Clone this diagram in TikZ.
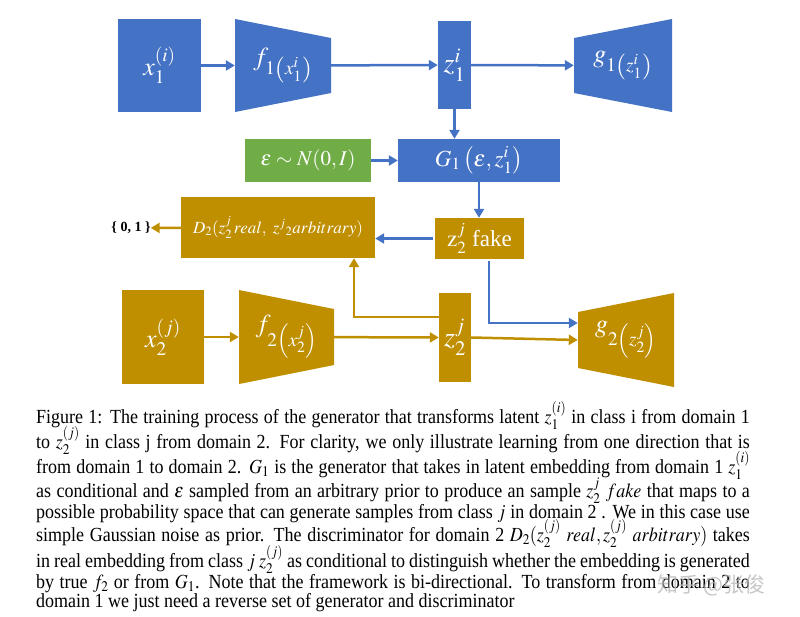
\documentclass[tikz,border=0pt]{standalone}
\usepackage{graphicx}
\usepackage{mathptmx}
\usepackage{fontspec}
\setmainfont{Liberation Serif}
\newfontfamily\cjkfont{Noto Sans CJK SC}
\usetikzlibrary{arrows.meta}

\definecolor{encblue}{HTML}{4472C4}
\definecolor{encgold}{HTML}{BF8F00}
\definecolor{noisegreen}{HTML}{70AD47}

\tikzstyle{block} = [rectangle, inner sep=0pt, text=white, font=\fontsize{26}{30}\selectfont]
\tikzstyle{latent} = [block, font=\fontsize{28}{32}\selectfont]
\tikzstyle{flow}  = [line width=2.5pt, -{Triangle[length=9pt, width=10pt]}]
\tikzstyle{capline} = [anchor=base west, inner sep=0pt, font=\fontsize{20}{24}\selectfont]
\tikzset{
  encoder/.style={block, path picture={\fill[#1] (path picture bounding box.north west)
      -- ([yshift=-19pt]path picture bounding box.north east)
      -- ([yshift=19pt]path picture bounding box.south east)
      -- (path picture bounding box.south west) -- cycle;}},
  decoder/.style={block, path picture={\fill[#1] ([yshift=-19pt]path picture bounding box.north west)
      -- (path picture bounding box.north east)
      -- (path picture bounding box.south east)
      -- ([yshift=19pt]path picture bounding box.south west) -- cycle;}}
}
\newcommand{\figline}[1]{\scalebox{0.9}[1]{\makebox[793pt][s]{#1}}}

\begin{document}
\begin{tikzpicture}[x=1pt, y=-1pt]
        \useasboundingbox (0,0) rectangle (800,616);

        % Domain 1
        \node[block, fill=encblue, minimum width=83pt, minimum height=93pt] (x1) at (159.5, 65.5) {$x_1^{(i)}$};
        \node[encoder=encblue, minimum width=96pt, minimum height=93pt] (f1) at (283, 65.5) {$f_{1\left(x_1^{i}\right)}$};
        \node[latent, fill=encblue, minimum width=33pt, minimum height=88pt] (z1) at (454.5, 65) {$z_1^{i}$};
        \node[decoder=encblue, minimum width=98pt, minimum height=93pt] (g1) at (623, 65.5) {$g_{1\left(z_1^{i}\right)}$};

        % Generator
        \node[block, fill=noisegreen, minimum width=126pt, minimum height=43pt, font=\fontsize{21}{25}\selectfont] (eps) at (308, 160.5) {$\epsilon\sim N(0,I)$};
        \node[block, fill=encblue, minimum width=162pt, minimum height=43pt, font=\fontsize{23}{27}\selectfont] (G1) at (479, 160.5) {$G_1\left(\epsilon, z_1^{i}\right)$};

        % Discriminator
        \node[block, fill=encgold, minimum width=194pt, minimum height=61pt, font=\fontsize{17}{20}\selectfont] (D2) at (278, 227.5) {$D_2(z_2^{j}\,real,\ z^{j}{}_{2}arbitrary)$};
        \node[block, fill=encgold, minimum width=89pt, minimum height=41pt, font=\fontsize{23}{27}\selectfont] (fake) at (479.5, 238.5) {$\mathrm{z}_2^{j}$ fake};
        \node[inner sep=0pt, font=\bfseries\fontsize{14}{17}\selectfont] (out) at (131, 228) {\{ 0, 1 \}};

        % Domain 2
        \node[block, fill=encgold, minimum width=82pt, minimum height=94pt] (x2) at (163, 337) {$x_2^{(j)}$};
        \node[encoder=encgold, minimum width=95pt, minimum height=94pt] (f2) at (286.5, 337) {$f_{2\left(x_2^{j}\right)}$};
        \node[latent, fill=encgold, minimum width=32pt, minimum height=89pt] (z2) at (455, 337.5) {$z_2^{j}$};
        \node[decoder=encgold, minimum width=96pt, minimum height=94pt] (g2) at (626, 340) {$g_{2\left(z_2^{j}\right)}$};

        % Connectors
        \draw[flow, encblue] (x1) -- (f1);
        \draw[flow, encblue] (f1) -- (z1);
        \draw[flow, encblue] (z1) -- (g1);
        \draw[flow, encblue] (z1.south) -- (z1.south |- G1.north);
        \draw[flow, encblue] (eps) -- (G1);
        \draw[flow, encblue] (G1.south) -- (G1.south |- fake.north);
        \draw[flow, encblue, shorten <=2pt] (fake.west) -- (fake.west -| D2.east);
        \draw[flow, encblue, shorten <=2pt] ([xshift=9.5pt]fake.south) |- ([yshift=17pt]g2.west);
        \draw[flow, encgold] (D2) -- (out);
        \draw[flow, encgold] (x2) -- (f2);
        \draw[flow, encgold] (f2) -- (z2);
        \draw[flow, encgold] (z2.east) -- (g2.west);
        \draw[flow, encgold] ([yshift=20.5pt]z2.west) -| ([xshift=76pt]D2.south);

        % Caption
        \node[capline] (cap1) at (36, 423) {\figline{Figure 1: The training process of the generator that transforms latent $z_1^{(i)}$ in class i from domain 1}};
        \node[capline] (cap2) at (36, 448) {\figline{to $z_2^{(j)}$ in class j from domain 2. For clarity, we only illustrate learning from one direction that is}};
        \node[capline] (cap3) at (36, 473) {\figline{from domain 1 to domain 2. $G_1$ is the generator that takes in latent embedding from domain 1 $z_1^{(i)}$}};
        \node[capline] (cap4) at (36, 497) {\figline{as conditional and $\epsilon$ sampled from an arbitrary prior to produce an sample $z_2^{j}~fake$ that maps to a}};
        \node[capline] (cap5) at (36, 518) {\figline{possible probability space that can generate samples from class $j$ in domain 2 . We in this case use}};
        \node[capline] (cap6) at (36, 541) {\figline{simple Gaussian noise as prior. The discriminator for domain 2 $D_2(z_2^{(j)}~real, z_2^{(j)}~arbitrary)$ takes}};
        \node[capline] (cap7) at (36, 567) {\figline{in real embedding from class $j$ $z_2^{(j)}$ as conditional to distinguish whether the embedding is generated}};
        \node[capline] (cap8) at (36, 588) {\figline{by true $f_2$ or from $G_1$. Note that the framework is bi-directional. To transform from domain 2 to}};
        \node[capline] (cap9) at (36, 607) {\scalebox{0.9}[1]{domain 1 we just need a reverse set of generator and discriminator}};

        % Watermark
        \node[anchor=west, inner sep=0pt, text=gray!55, opacity=0.8, font=\cjkfont\fontsize{21}{25}\selectfont] (mark) at (657, 585) {知乎 @张俊};
      \end{tikzpicture}
\end{document}
